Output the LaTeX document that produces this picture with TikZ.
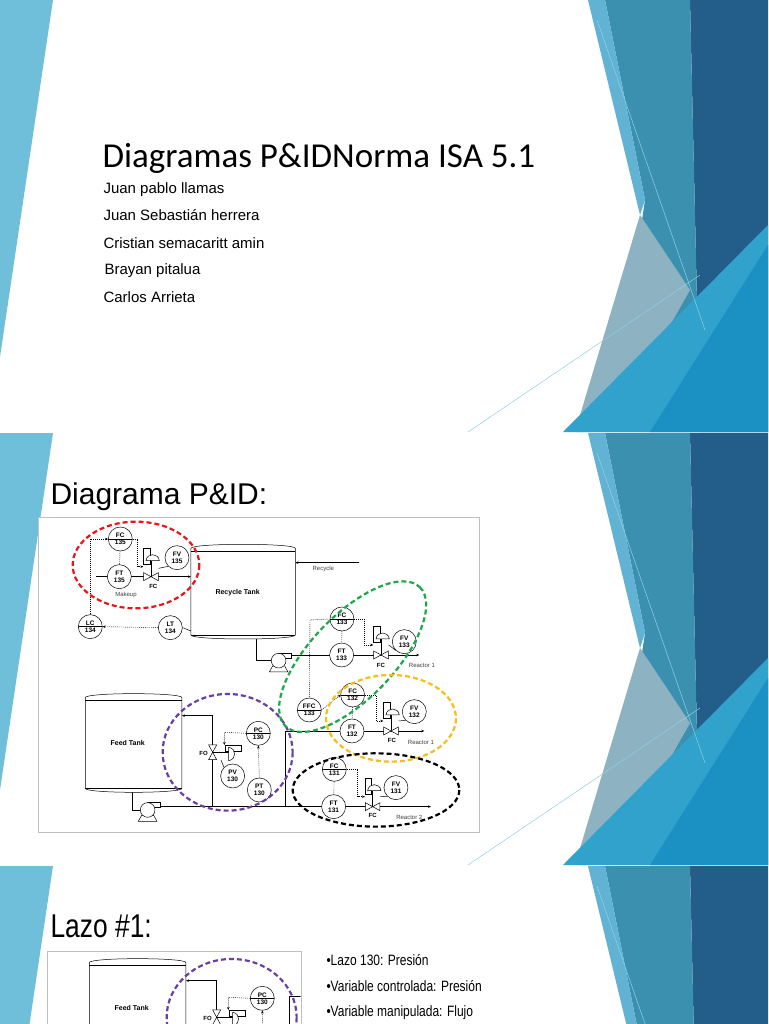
\documentclass[tikz,border=0pt]{standalone}
\usepackage{fontspec}
\setmainfont{Liberation Sans}
\newfontfamily\titlefont{Carlito}
\newfontfamily\narrowfont[FakeStretch=0.8]{Liberation Sans}
\usetikzlibrary{arrows.meta}
\definecolor{navy}{HTML}{235E8A}
\definecolor{teal}{HTML}{3C90AF}
\definecolor{lightb}{HTML}{6FBFDB}
\definecolor{stripb}{HTML}{62B3D3}
\definecolor{greyb}{HTML}{8DB3C2}
\definecolor{bright1}{HTML}{31A2CB}
\definecolor{bright2}{HTML}{1B90C2}
\definecolor{thinl}{HTML}{8ED0E6}
\definecolor{loopred}{HTML}{E8141B}
\definecolor{loopgreen}{HTML}{1FA64A}
\definecolor{loopyellow}{HTML}{F6BE16}
\definecolor{looppurple}{HTML}{6B3FA0}
\newif\ifallparts \allpartstrue
\tikzset{
 inst/.style={circle,draw,line width=.5pt,minimum size=24pt,inner sep=0pt,align=center,fill=white,
   font=\fontsize{6.5}{7}\selectfont\bfseries},
 shared/.style={inst,path picture={\draw[line width=.5pt] (path picture bounding box.west)--(path picture bounding box.east);}},
 pipe/.style={line width=.5pt},
 sig/.style={line width=.4pt,dash pattern=on 1pt off 1pt},
 tip/.style={-{Stealth[length=3pt,width=2.5pt]}},
 loopline/.style={line width=2.2pt,dash pattern=on 5pt off 3pt},
 small/.style={font=\fontsize{6}{6}\selectfont,text=black!75},
 smallb/.style={font=\fontsize{6}{6}\selectfont\bfseries},
 tanklabel/.style={font=\fontsize{7}{7}\selectfont\bfseries},
 names/.style={anchor=base west,font=\fontsize{15}{15}\selectfont},
}
\newcommand\hvalve[2]{\begin{scope}[shift={(#1,#2)}]
 \draw[pipe] (0,0)--(0,-48);
 \draw[pipe,fill=white] (-22,-85) rectangle (-3,-38);
 \draw[pipe,fill=white] (-15,-48) .. controls (-12,-72) and (22,-72) .. (25,-48) -- cycle;
 \draw[pipe,fill=white] (-22,-12)--(-22,12)--(22,-12)--(22,12)--cycle;
\end{scope}}
\newcommand\pump[2]{\begin{scope}[shift={(#1,#2)}]
 \draw[pipe,fill=white] (-18,16)--(18,16)--(28,34)--(-28,34)--cycle;
 \draw[pipe,fill=white] (0,-22) rectangle (38,-8);
 \draw[pipe,fill=white] (0,0) circle[radius=22];
\end{scope}}
\newcommand\tank[4]{%
 \draw[pipe,fill=white] (#1,#3)--(#1,#4) .. controls (#1,#4+16) and (#2,#4+16) .. (#2,#4)--(#2,#3) .. controls (#2,#3-16) and (#1,#3-16) .. cycle;
 \draw[pipe] (#1,#3+8)--(#2,#3+8) (#1,#4)--(#2,#4);}
\newcommand\pid{%
 \draw[pipe,tip] (180,185)--(465,185);
 \draw[pipe,tip] (970,143)--(778,143);
 \draw[pipe] (662,372)--(662,437)--(706,437);
 \draw[pipe,tip] (760,420)--(1150,420);
 \draw[pipe,tip] (748,875)--(748,648)--(1165,648);
 \draw[pipe,tip] (370,875)--(1185,875);
 \draw[pipe] (290,820)--(290,885)--(313,885);
 \draw[pipe,tip] (530,875)--(530,602)--(438,602);
 \tank{465}{778}{100}{360}
 \tank{148}{438}{548}{820}
 \node[tanklabel] (rtl) at (605,232) {Recycle Tank};
 \node[tanklabel] (ftl) at (275,685) {Feed Tank};
 \pump{728}{437}
 \pump{335}{885}
 \hvalve{345}{185}
 \begin{scope}[shift={(530,712)},rotate=-90]
  \draw[pipe] (0,0)--(0,-48);
  \draw[pipe,fill=white] (-22,-85) rectangle (-3,-38);
  \draw[pipe,fill=white] (-15,-48) .. controls (-12,-72) and (22,-72) .. (25,-48) -- cycle;
  \draw[pipe,fill=white] (-22,-12)--(-22,12)--(22,-12)--(22,12)--cycle;
 \end{scope}
 \node[shared] (fc135) at (253,72) {FC\\135};
 \node[inst] (ft135) at (250,185) {FT\\135};
 \node[inst] (fv135) at (423,128) {FV\\135};
 \node[shared] (lc134) at (163,335) {LC\\134};
 \node[inst] (lt134) at (403,338) {LT\\134};
 \node[shared] (pc130) at (667,655) {PC\\130};
 \node[inst] (pv130) at (590,783) {PV\\130};
 \node[inst] (pt130) at (670,825) {PT\\130};
 \draw[sig] (fc135)--(ft135);
 \draw[sig,tip] (fc135.east)--(305,72)--(305,155)--(322,155);
 \draw[pipe] (fv135.south west)--(368,160);
 \draw[sig,tip] (lc134.north)--(163,72)--(fc135.west);
 \draw[sig,tip] (lt134.west)--(lc134.east);
 \draw[pipe] (lt134.east)--(465,348);
 \draw[sig,tip] (pt130.north)--(pc130.south);
 \draw[sig,tip] (pc130.west)--(565,652)--(565,690);
 \draw[pipe] (pv130.north west)--(555,735);
 \node[smallb] (l10) at (503,715) {FO};
 \draw[loopline,looppurple] (575,712) ellipse[x radius=195,y radius=175];
 \ifallparts
 \hvalve{1035}{420}
 \hvalve{1065}{648}
 \hvalve{1010}{875}
 \node[shared] (fc133) at (918,312) {FC\\133};
 \node[inst] (ft133) at (917,420) {FT\\133};
 \node[inst] (fv133) at (1105,380) {FV\\133};
 \node[shared] (ffc133) at (820,585) {FFC\\133};
 \node[shared] (fc132) at (950,540) {FC\\132};
 \node[inst] (ft132) at (948,648) {FT\\132};
 \node[inst] (fv132) at (1135,590) {FV\\132};
 \node[shared] (fc131) at (895,763) {FC\\131};
 \node[inst] (ft131) at (893,875) {FT\\131};
 \node[inst] (fv131) at (1080,818) {FV\\131};
 \draw[sig] (fc133)--(ft133);
 \draw[sig,tip] (fc133.east)--(985,312)--(985,390)--(1012,390);
 \draw[pipe] (fv133.south west)--(1058,390);
 \draw[sig] (fc133.west)--(822,315)--(ffc133.north);
 \draw[sig,tip] (ffc133.east)--(fc132.west);
 \draw[sig] (fc132)--(ft132);
 \draw[sig,tip] (fc132.east)--(1020,540)--(1020,618)--(1042,618);
 \draw[pipe] (fv132.south west)--(1088,618);
 \draw[sig] (fc131)--(ft131);
 \draw[sig,tip] (fc131.east)--(965,763)--(965,845)--(987,845);
 \draw[pipe] (fv131.south west)--(1033,845);
 \node[smallb] (l1) at (352,213) {FC};
 \node[small] (l2) at (270,240) {Makeup};
 \node[small] (l3) at (862,162) {Recycle};
 \node[smallb] (l4) at (1035,450) {FC};
 \node[small] (l5) at (1158,450) {Reactor 1};
 \node[smallb] (l6) at (1068,677) {FC};
 \node[small] (l7) at (1155,683) {Reactor 1};
 \node[smallb] (l8) at (1010,902) {FC};
 \node[small] (l9) at (1120,907) {Reactor 2};
 \draw[loopline,loopred] (300,150) ellipse[x radius=190,y radius=130];
 \draw[loopline,loopgreen,rotate around={46:(950,425)}] (950,425) ellipse[x radius=290,y radius=125];
 \draw[loopline,loopyellow] (1065,610) ellipse[x radius=195,y radius=130];
 \draw[loopline,black] (1020,825) ellipse[x radius=250,y radius=110];
 \fi
}
\newcommand\deco[1]{\begin{scope}[shift={(0,#1)}]
 \fill[lightb] (0,0)--(53,0)--(0,357)--cycle;
 \fill[navy] (690,0)--(768,0)--(768,432)--(700,432)--cycle;
 \fill[teal] (605,0)--(690,0)--(700,432)--(610,432)--(645,200)--cycle;
 \fill[stripb] (588,0)--(605,0)--(645,200)--(640,215)--cycle;
 \fill[greyb] (640,215)--(690,290)--(610,432)--(575,432)--cycle;
 \fill[bright1] (563,432)--(768,225)--(768,432)--cycle;
 \fill[bright2] (650,432)--(768,245)--(768,432)--cycle;
 \draw[thinl,line width=.5pt] (468,432)--(700,275) (597,20)--(705,330);
\end{scope}}
\begin{document}
\begin{tikzpicture}[x=1pt,y=-1pt]
\useasboundingbox (0,0) rectangle (768,1024);
\fill[white] (0,0) rectangle (768,1024);
\begin{scope}
\clip (0,0) rectangle (768,1024);
\deco{0}
\deco{433}
\deco{866}
\end{scope}
\node[anchor=base west,font=\titlefont\fontsize{35}{35}\selectfont] (t1) at (99,168) {Diagramas P\&IDNorma ISA 5.1};
\node[names] (n1) at (100,194) {Juan pablo llamas};
\node[names] (n2) at (100,221) {Juan Sebastián herrera};
\node[names] (n3) at (100,248) {Cristian semacaritt amin};
\node[names] (n4) at (101,274) {Brayan pitalua};
\node[names] (n5) at (100,302) {Carlos Arrieta};
\node[anchor=base west,font=\fontsize{30}{30}\selectfont] (t2) at (47,504) {Diagrama P\&ID:};
\draw[black!25,line width=1pt,fill=white] (38,517) rectangle (479,832);
\begin{scope}[shift={(36,515)},x=0.3333pt,y=-0.3333pt]
\pid
\end{scope}
\node[anchor=base west,font=\narrowfont\fontsize{33}{33}\selectfont] (t3) at (47,937) {Lazo \#1:};
\node[anchor=base west,font=\narrowfont\fontsize{15}{15}\selectfont] (b1) at (323,965) {•Lazo 130: Presión};
\node[anchor=base west,font=\narrowfont\fontsize{15}{15}\selectfont] (b2) at (323,991) {•Variable controlada: Presión};
\node[anchor=base west,font=\narrowfont\fontsize{15}{15}\selectfont] (b3) at (323,1016) {•Variable manipulada: Flujo};
\draw[black!25,line width=1pt,fill=white] (47,951) rectangle (301,1030);
\allpartsfalse
\begin{scope}
\clip (47.5,951.5) rectangle (300.5,1024);
\begin{scope}[shift={(40,780)},x=0.3333pt,y=-0.3333pt]
\pid
\end{scope}
\end{scope}
\end{tikzpicture}
\end{document}
